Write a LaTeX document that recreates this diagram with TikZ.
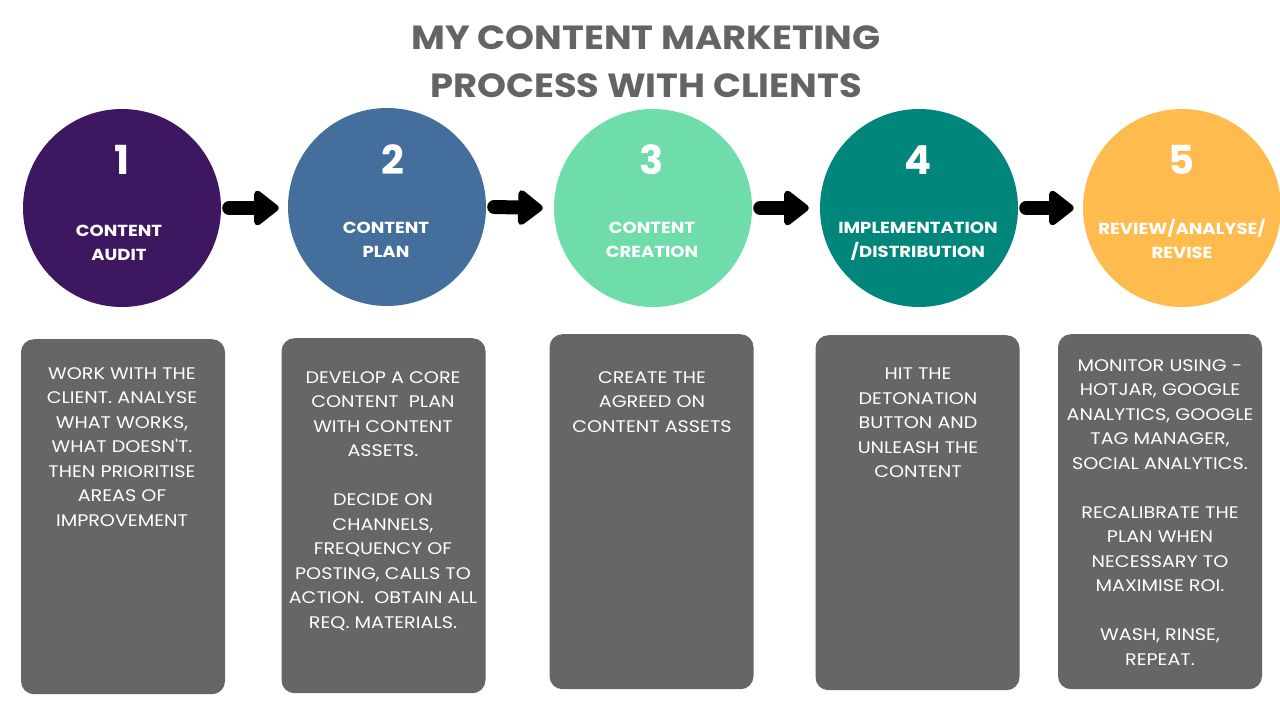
\documentclass[tikz,border=0pt]{standalone}
\usepackage{fontspec}
\setmainfont{Poppins}
\newfontfamily\titlefont{Poppins}[FakeStretch=1.1]
\newfontfamily\lblfont{Poppins}[FakeStretch=1.13]
\newfontfamily\cardfont{Poppins}[FakeStretch=1.14]
\usetikzlibrary{arrows.meta,calc}
\definecolor{cA}{HTML}{3E1761}
\definecolor{cB}{HTML}{446E9B}
\definecolor{cC}{HTML}{6EDDAA}
\definecolor{cD}{HTML}{00867A}
\definecolor{cE}{HTML}{FFBB4D}
\definecolor{boxgray}{HTML}{666666}
\definecolor{titlegray}{HTML}{646464}
\tikzset{
  stage/.style={circle, fill=#1, minimum size=198pt, inner sep=0pt},
  num/.style={text=white, font=\fontsize{40}{44}\selectfont\bfseries, inner sep=0pt},
  lbl/.style={text=white, font=\lblfont\fontsize{16}{24}\selectfont\bfseries, align=center, inner sep=0pt},
  card/.style={fill=boxgray, rounded corners=13pt, minimum width=204pt, minimum height=355pt, anchor=north, inner sep=0pt},
  cardtext/.style={text=white, font=\cardfont\fontsize{16.8}{24.5}\selectfont, align=center, anchor=north, inner sep=0pt},
  flow/.style={line width=14pt, line cap=round, -{Triangle[length=27pt,width=40pt,round]}},
}
\begin{document}
\begin{tikzpicture}[x=1pt,y=-1pt]
\useasboundingbox (0,0) rectangle (1280,720);
\fill[white] (0,0) rectangle (1280,720);
% title
\node[text=titlegray, font=\titlefont\fontsize{33.5}{48}\selectfont\bfseries, align=center, anchor=north, inner sep=0pt] (title) at (646,25) {MY CONTENT MARKETING\\PROCESS WITH CLIENTS};
% circles
\node[stage=cA] (c1) at (122,208) {};
\node[stage=cB] (c2) at (387,207) {};
\node[stage=cC] (c3) at (653,208) {};
\node[stage=cD] (c4) at (919,208) {};
\node[stage=cE] (c5) at (1182,208) {};
% numbers
\node[num] (n1) at (122,160) {1};
\node[num] (n2) at (393,160) {2};
\node[num] (n3) at (652,160) {3};
\node[num] (n4) at (918,160) {4};
\node[num] (n5) at (1181,160) {5};
% labels
\node[lbl, anchor=north] (l1) at (119,225) {CONTENT\\AUDIT};
\node[lbl, anchor=north] (l2) at (386,222) {CONTENT\\PLAN};
\node[lbl, anchor=north] (l3) at (652,222) {CONTENT\\CREATION};
\node[lbl, anchor=north] (l4) at (918,222) {IMPLEMENTATION\\/DISTRIBUTION};
\node[lbl, anchor=north] (l5) at (1182,219) {REVIEW/ANALYSE/\\REVISE};
% arrows
\draw[flow] ($(c1.east)+(8,0)$) -- ($(c2.west)+(-9,1)$);
\draw[flow] ($(c2.east)+(8,0)$) -- ($(c3.west)+(-11,0)$);
\draw[flow] ($(c3.east)+(8,0)$) -- ($(c4.west)+(-11,0)$);
\draw[flow] ($(c4.east)+(8,0)$) -- ($(c5.west)+(-9,0)$);
% cards
\node[card] (b1) at (123,339) {};
\node[card] (b2) at (383.5,338) {};
\node[card] (b3) at (651.5,334) {};
\node[card] (b4) at (917.5,335) {};
\node[card] (b5) at (1160,334) {};
\node[cardtext] (t1) at (122,367) {WORK WITH THE\\CLIENT. ANALYSE\\WHAT WORKS,\\WHAT DOESN'T.\\THEN PRIORITISE\\AREAS OF\\IMPROVEMENT};
\node[cardtext] (t2) at (383,371) {DEVELOP A CORE\\CONTENT\ \ PLAN\\WITH CONTENT\\ASSETS.\\[24.5pt]DECIDE ON\\CHANNELS,\\FREQUENCY OF\\POSTING, CALLS TO\\ACTION.\ \ OBTAIN ALL\\REQ. MATERIALS.};
\node[cardtext] (t3) at (652,371) {CREATE THE\\AGREED ON\\CONTENT ASSETS};
\node[cardtext] (t4) at (918,368) {HIT THE\\DETONATION\\BUTTON AND\\UNLEASH THE\\CONTENT};
\node[cardtext] (t5) at (1160,359) {MONITOR USING -\\HOTJAR, GOOGLE\\ANALYTICS, GOOGLE\\TAG MANAGER,\\SOCIAL ANALYTICS.\\[24.5pt]RECALIBRATE THE\\PLAN WHEN\\NECESSARY TO\\MAXIMISE ROI.\\[24.5pt]WASH, RINSE,\\REPEAT.};
\end{tikzpicture}
\end{document}
